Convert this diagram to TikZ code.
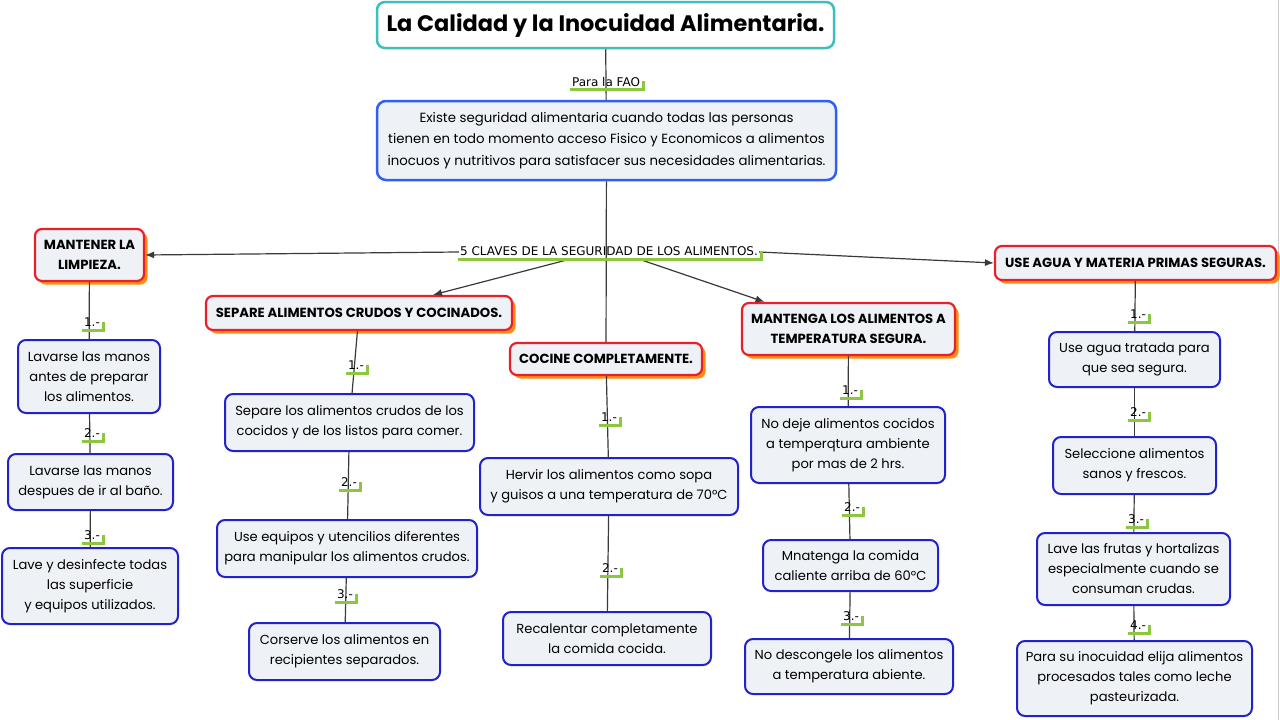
\documentclass[tikz,border=0pt]{standalone}
\usepackage{fontspec}
\newfontfamily\lblfont{DejaVu Sans}
\newfontfamily\geo{Poppins}
\usetikzlibrary{arrows.meta,shadows,calc}
\definecolor{teal1}{HTML}{3CBFBF}
\definecolor{blue1}{HTML}{3060F0}
\definecolor{blue2}{HTML}{2222CC}
\definecolor{red1}{HTML}{E8202A}
\definecolor{org1}{HTML}{FF8C10}
\definecolor{fill1}{HTML}{EEF2F6}
\definecolor{grn1}{HTML}{8DC63F}
\definecolor{ln1}{HTML}{3A3A3A}
\tikzset{
  ttl/.style={draw=teal1, line width=2.5pt, fill=white, rounded corners=8pt, align=center,
    font={\geo\bfseries\fontsize{22.4pt}{26pt}\selectfont}},
  fbox/.style={draw=blue1, line width=2.5pt, fill=fill1, rounded corners=9pt, align=center,
    font={\geo\fontsize{13.3pt}{21.5pt}\selectfont}},
  hdr/.style={draw=red1, line width=2.2pt, fill=fill1, rounded corners=7pt, align=center,
    font={\geo\bfseries\fontsize{13.2pt}{20pt}\selectfont},
    drop shadow={shadow xshift=3.5pt, shadow yshift=-3.5pt, fill=org1, opacity=1}},
  stp/.style={draw=blue2, line width=2pt, fill=fill1, rounded corners=8pt, align=center,
    font={\geo\fontsize{13.1pt}{20pt}\selectfont}},
  lbl/.style={inner xsep=1pt, inner ysep=2pt, text depth=1pt,
    font={\lblfont\fontsize{12pt}{13pt}\selectfont}},
  gmark/.style={draw=grn1, line width=3pt},
  cn/.style={draw=ln1, line width=1.2pt},
  arr/.style={cn, -{Latex[length=9pt,width=7pt]}}
}
\newcommand\glabel[3]{%
  \node[lbl] (#1) at (#2) {#3};
  \draw[gmark] ([xshift=-1pt]#1.south west) -- ([xshift=2pt]#1.south east) -- ([xshift=2pt,yshift=8pt]#1.south east);}
\begin{document}
\begin{tikzpicture}[x=1pt,y=-1pt]
\fill[white] (0,0) rectangle (1280,720);
\useasboundingbox (0,0) rectangle (1280,720);
\draw[gray!40, line width=1.5pt] (1278.5,0) -- (1278.5,720);

% main nodes
\node[ttl, minimum width=457pt, minimum height=46pt] (title) at (605.5,25) {La Calidad y la Inocuidad Alimentaria.};
\node[fbox, minimum width=459pt, minimum height=79pt] (fao) at (606.5,140.5)
  {Existe seguridad alimentaria cuando todas las personas\\ tienen en todo momento acceso Fisico y Economicos a alimentos\\ inocuos y nutritivos para satisfacer sus necesidades alimentarias.};

% headers
\node[hdr, minimum width=109pt, minimum height=52pt] (limp) at (89.5,255) {MANTENER LA\\LIMPIEZA.};
\node[hdr, minimum width=306pt, minimum height=34pt] (sep) at (359,313) {SEPARE ALIMENTOS CRUDOS Y COCINADOS.};
\node[hdr, minimum width=192pt, minimum height=32pt] (coc) at (606,359) {COCINE COMPLETAMENTE.};
\node[hdr, minimum width=213pt, minimum height=52pt] (mant) at (848.5,329) {MANTENGA LOS ALIMENTOS A\\TEMPERATURA SEGURA.};
\node[hdr, minimum width=281pt, minimum height=34pt] (agua) at (1135.5,263) {USE AGUA Y MATERIA PRIMAS SEGURAS.};

% step boxes
\node[stp, minimum width=142pt, minimum height=73pt] (L1) at (89,376.5) {Lavarse las manos\\antes de preparar\\los alimentos.};
\node[stp, minimum width=165pt, minimum height=56pt] (L2) at (90.5,482) {Lavarse las manos\\despues de ir al baño.};
\node[stp, minimum width=176pt, minimum height=76pt] (L3) at (90,586) {Lave y desinfecte todas\\las superficie\\ y equipos utilizados.};
\node[stp, minimum width=249pt, minimum height=57pt] (S1) at (349.5,422.5) {Separe los alimentos crudos de los\\cocidos y de los listos para comer.};
\node[stp, minimum width=260pt, minimum height=57pt] (S2) at (347,548.5) {Use equipos y utencilios diferentes\\para manipular los alimentos crudos.};
\node[stp, minimum width=191pt, minimum height=57pt] (S3) at (344.5,651.5) {Corserve los alimentos en\\recipientes separados.};
\node[stp, minimum width=258pt, minimum height=57pt] (C1) at (609,486.5) {Hervir los alimentos como sopa\\y guisos a una temperatura de 70°C};
\node[stp, minimum width=208pt, minimum height=53pt] (C2) at (607,638.5) {Recalentar completamente\\la comida cocida.};
\node[stp, minimum width=194pt, minimum height=76pt] (M1) at (848,445) {No deje alimentos cocidos\\a temperqtura ambiente\\por mas de 2 hrs.};
\node[stp, minimum width=175pt, minimum height=51pt] (M2) at (850.5,565.5) {Mnatenga la comida\\caliente arriba de 60°C};
\node[stp, minimum width=208pt, minimum height=55pt] (M3) at (849,666.5) {No descongele los alimentos\\a temperatura abiente.};
\node[stp, minimum width=171pt, minimum height=55pt] (A1) at (1134.5,359.5) {Use agua tratada para\\que sea segura.};
\node[stp, minimum width=163pt, minimum height=57pt] (A2) at (1134.5,465.5) {Seleccione alimentos\\sanos y frescos.};
\node[stp, minimum width=193pt, minimum height=72pt] (A3) at (1133.5,569) {Lave las frutas y hortalizas\\especialmente cuando se\\consuman crudas.};
\node[stp, minimum width=235pt, minimum height=75pt] (A4) at (1134.5,678.5) {Para su inocuidad elija alimentos\\procesados tales como leche\\pasteurizada.};

% top labels (text)
\node[lbl] (lfao) at (606,82) {Para la FAO};
\node[lbl] (claves) at (609,252) {5 CLAVES DE LA SEGURIDAD DE LOS ALIMENTOS.};

% connectors
\draw[cn] (title) -- (fao);
\draw[cn] (fao) -- (coc);
\draw[arr] (claves.west) -- (limp.east);
\draw[arr] (claves.east) -- (agua.west);
\draw[arr] ($(claves.south west)!0.37!(claves.south east)$) -- ($(sep.north west)!0.74!(sep.north east)$);
\draw[arr] ($(claves.south west)!0.60!(claves.south east)$) -- ($(mant.north west)!0.11!(mant.north east)$);
\draw[cn] (limp) -- (L1); \draw[cn] (L1) -- (L2); \draw[cn] (L2) -- (L3);
\draw[cn] (sep) -- (S1); \draw[cn] (S1) -- (S2); \draw[cn] (S2) -- (S3);
\draw[cn] (coc) -- (C1); \draw[cn] (C1) -- (C2);
\draw[cn] (mant) -- (M1); \draw[cn] (M1) -- (M2); \draw[cn] (M2) -- (M3);
\draw[cn] (agua) -- (A1); \draw[cn] (A1) -- (A2); \draw[cn] (A2) -- (A3); \draw[cn] (A3) -- (A4);

% green marks for top labels
\draw[gmark] ([xshift=-1pt]lfao.south west) -- ([xshift=2pt]lfao.south east) -- ([xshift=2pt,yshift=8pt]lfao.south east);
\draw[gmark] ([xshift=-1pt]claves.south west) -- ([xshift=2pt]claves.south east) -- ([xshift=2pt,yshift=8pt]claves.south east);

% number labels
\glabel{nl1}{92,323}{1.-}
\glabel{nl2}{92,434}{2.-}
\glabel{nl3}{92,536}{3.-}
\glabel{ns1}{356,366}{1.-}
\glabel{ns2}{349,483}{2.-}
\glabel{ns3}{345,595}{3.-}
\glabel{nc1}{609,418}{1.-}
\glabel{nc2}{610,569}{2.-}
\glabel{nm1}{850,391}{1.-}
\glabel{nm2}{852,508}{2.-}
\glabel{nm3}{851,617}{3.-}
\glabel{na1}{1138,315}{1.-}
\glabel{na2}{1138,413}{2.-}
\glabel{na3}{1136,520}{3.-}
\glabel{na4}{1138,626}{4.-}
\end{tikzpicture}
\end{document}
